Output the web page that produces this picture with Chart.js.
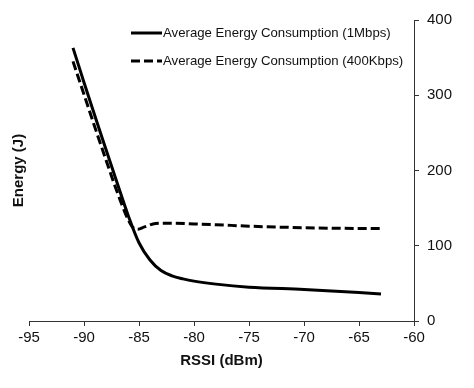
<!DOCTYPE html>
<html>
<head>
<meta charset="utf-8">
<script src="https://cdn.jsdelivr.net/npm/chart.js@4.4.1/dist/chart.umd.min.js"></script>
<style>
  html, body { margin: 0; padding: 0; background: #fff; }
  canvas { display: block; }
</style>
</head>
<body>
<canvas id="chart" width="474" height="388"></canvas>
<script>
// RSSI (dBm) points and the energy (J)
const rssi1M = [-91, -90, -89, -88, -87, -86, -85, -84, -83, -82, -81, -80, -78, -75, -70, -65, -63]
const energy1M = [363, 317, 272, 228, 184, 141, 104, 81, 67, 60, 56, 53, 49, 45, 42, 38, 36]
const rssi400K = [-91, -90, -89, -88, -87, -86, -85.6, -85.1, -84.5, -83.5, -82, -80, -78, -75, -70, -65, -63]
const energy400K = [345, 301, 257, 214, 172, 135, 125, 122, 125, 129.5, 130, 129, 128, 126, 124, 123, 123]
const xTicks = [-95, -90, -85, -80, -75, -70, -65, -60]
const yTicks = [0, 100, 200, 300, 400]

const FONT = "'Liberation Sans', Arial, Helvetica, sans-serif"

function toPoints(xs, ys) {
    return xs.map(function (x, i) { return { x: x, y: ys[i] } })
}

// legend drawn inside the plot, upper right, as in the paper figure
const lineLegend = {
    id: 'lineLegend',
    afterDraw(chart) {
        const { ctx } = chart
        const x0 = 131, len = 31
        const rows = [33, 61]
        ctx.save()
        chart.data.datasets.forEach(function (ds, i) {
            const y = rows[i]
            ctx.beginPath()
            ctx.setLineDash(ds.borderDash || [])
            ctx.lineWidth = ds.borderWidth
            ctx.strokeStyle = ds.borderColor
            ctx.moveTo(x0, y)
            ctx.lineTo(x0 + len, y)
            ctx.stroke()
            ctx.setLineDash([])
            ctx.fillStyle = '#111'
            ctx.font = '13.2px ' + FONT
            ctx.textBaseline = 'middle'
            ctx.textAlign = 'left'
            ctx.fillText(ds.label, x0 + len + 1, y)
        })
        ctx.restore()
    }
}

new Chart(document.getElementById('chart'), {
    type: 'line',
    data: {
        datasets: [
            {
                label: 'Average Energy Consumption (1Mbps)',
                data: toPoints(rssi1M, energy1M),
                borderColor: '#000',
                borderWidth: 3,
                pointRadius: 0,
                cubicInterpolationMode: 'monotone',
                yAxisID: 'y'
            },
            {
                label: 'Average Energy Consumption (400Kbps)',
                data: toPoints(rssi400K, energy400K),
                borderColor: '#000',
                borderWidth: 3,
                borderDash: [9, 4],
                pointRadius: 0,
                cubicInterpolationMode: 'monotone',
                yAxisID: 'y'
            }
        ]
    },
    options: {
        responsive: false,
        animation: false,
        layout: { padding: { top: 20, left: 0, right: 0, bottom: 0 } },
        plugins: {
            legend: { display: false },
            tooltip: { enabled: false }
        },
        scales: {
            x: {
                type: 'linear',
                min: -95,
                max: -60,
                afterBuildTicks(scale) { scale.ticks = xTicks.map(function (v) { return { value: v } }) },
                afterFit(scale) { scale.height = 67 },
                ticks: { color: '#111', font: { family: FONT, size: 15 }, padding: 3 },
                grid: { drawOnChartArea: false, drawTicks: true, tickLength: 5, color: '#333', lineWidth: 1 },
                border: { color: '#333', width: 1 },
                title: {
                    display: true,
                    text: 'RSSI (dBm)',
                    color: '#111',
                    font: { family: FONT, size: 15, weight: 'bold' },
                    padding: { top: 0, bottom: 18 }
                }
            },
            y: {
                position: 'right',
                min: 0,
                max: 400,
                afterBuildTicks(scale) { scale.ticks = yTicks.map(function (v) { return { value: v } }) },
                afterFit(scale) { scale.width = 60 },
                ticks: { color: '#111', font: { family: FONT, size: 15 }, padding: 8 },
                grid: { drawOnChartArea: false, drawTicks: true, tickLength: 5, color: '#333', lineWidth: 1 },
                border: { color: '#333', width: 1 }
            },
            yTitle: {
                position: 'left',
                min: 0,
                max: 400,
                afterFit(scale) { scale.width = 29 },
                ticks: { display: false },
                grid: { display: false },
                border: { display: false },
                title: {
                    display: true,
                    text: 'Energy (J)',
                    color: '#111',
                    font: { family: FONT, size: 15, weight: 'bold' },
                    padding: { top: 10, bottom: 0 }
                }
            }
        }
    },
    plugins: [lineLegend]
})
</script>
</body>
</html>
